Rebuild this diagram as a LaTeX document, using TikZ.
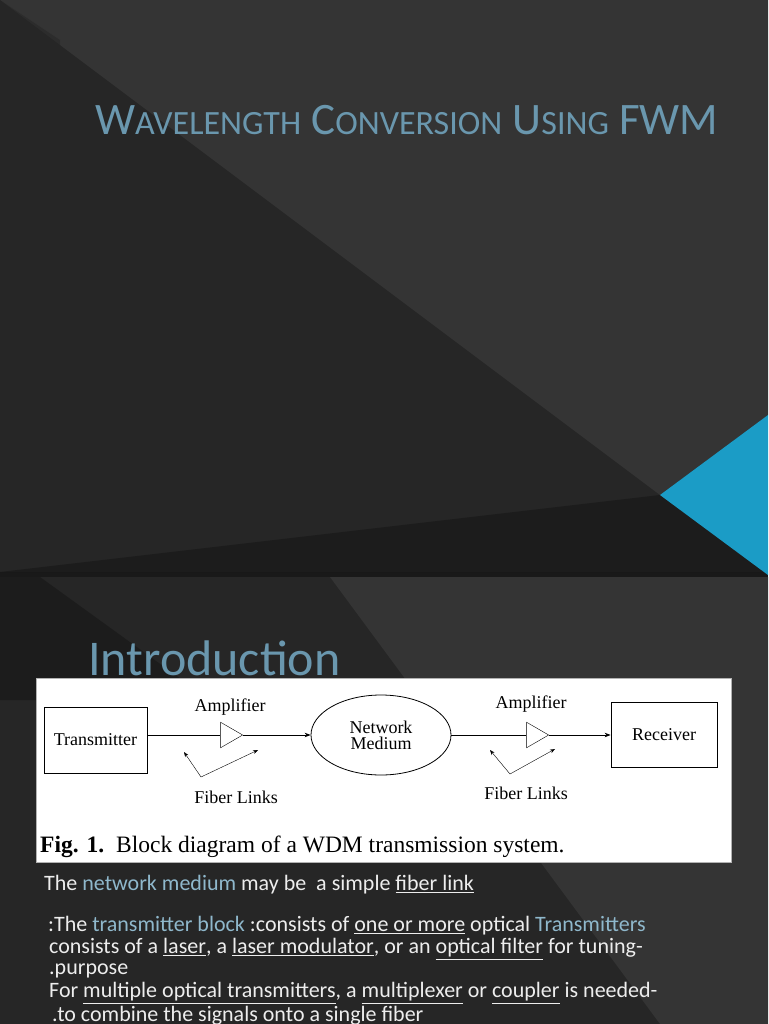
\documentclass[tikz,border=0pt]{standalone}
\usepackage{fontspec}
\setmainfont{Carlito}
\newfontfamily\figfont{Liberation Serif}
\usetikzlibrary{arrows.meta,shapes.geometric}
\definecolor{bgA}{HTML}{262626}
\definecolor{bgB}{HTML}{343434}
\definecolor{ttl}{HTML}{6A97AE}
\definecolor{hl}{HTML}{8FB8CC}
\definecolor{txt}{HTML}{EDEDED}
\definecolor{tri}{HTML}{1B9CC6}
\tikzset{
 blk/.style={draw=black,thick,fill=white,minimum width=103pt,minimum height=66pt,font=\figfont\fontsize{18}{19}\selectfont},
 amp/.style={draw=black,isosceles triangle,isosceles triangle apex angle=60,minimum height=22pt,inner sep=0pt,fill=white},
 lab/.style={font=\figfont\fontsize{18}{19}\selectfont,text=black},
 body/.style={anchor=west,text=txt,font=\fontsize{22}{24}\selectfont,inner sep=0pt},
 wire/.style={draw=black,thick},
}
\newcommand{\ul}[1]{\underline{#1}}
\newcommand{\sm}[1]{{\fontsize{34}{36}\selectfont #1}}
\begin{document}
\begin{tikzpicture}[x=1pt,y=-1pt]
\useasboundingbox (0,0) rectangle (768,1024);
\fill[black!90] (0,0) rectangle (768,1024);
% slide 1
\fill[bgA] (0,0) rectangle (768,572);
\fill[bgB] (0,0) -- (768,0) -- (768,415) -- (660,495) -- cycle;
\fill[black!85!white,opacity=.5] (0,0) -- (60,40) -- (60,572) -- (0,572) -- cycle;
\fill[black,opacity=.25] (0,572) -- (660,495) -- (768,572) -- cycle;
\fill[tri] (660,495) -- (768,415) -- (768,575) -- cycle;
\node[anchor=base west,text=ttl,font=\fontsize{45}{47}\selectfont,inner sep=0pt] (title) at (95,135) {W\sm{AVELENGTH} C\sm{ONVERSION} U\sm{SING} FWM};
% slide 2
\fill[bgA] (0,577) rectangle (768,1024);
\fill[bgB] (330,577) -- (768,577) -- (768,1024) -- (660,1024) -- cycle;
\fill[black,opacity=.25] (0,577) -- (40,577) -- (210,700) -- (0,700) -- cycle;
\node[anchor=base west,text=ttl,font=\fontsize{50}{52}\selectfont,inner sep=0pt] (intro) at (88,675) {Introduction};
% figure
\fill[white] (36,678) rectangle (731,862);
\draw[gray!60] (36,678) rectangle (731,862);
\node[blk] (tx) at (95.5,740) {Transmitter};
\node[amp] (a1) at (228,735) {};
\node[draw=black,thick,ellipse,minimum width=140pt,minimum height=80pt,font=\figfont\fontsize{18}{18}\selectfont,align=center,inner sep=0pt] (nm) at (381,735) {Network\\[-2pt]Medium};
\node[amp] (a2) at (534,735) {};
\node[blk,minimum width=106pt,minimum height=65pt] (rx) at (664,734.5) {Receiver};
\draw[wire] (tx.east |- a1.west) -- (a1.west);
\draw[wire,-{Stealth[length=6pt]}] (a1.apex) -- (nm.west);
\draw[wire] (nm.east) -- (a2.west);
\draw[wire,-{Stealth[length=6pt]}] (a2.apex) -- (rx.west |- a2.apex);
\node[lab] (al1) at (230,707) {Amplifier};
\node[lab] (al2) at (531,704) {Amplifier};
\node[lab] (f1) at (236,797) {Fiber Links};
\node[lab] (f2) at (526,793) {Fiber Links};
\coordinate (v1) at (201,777); \coordinate (v1a) at (184,752); \coordinate (v1b) at (258,750);
\coordinate (v2) at (510,774); \coordinate (v2a) at (490,750); \coordinate (v2b) at (555,749);
\draw[black,-{Stealth[length=5pt]}] (v1) -- (v1a);
\draw[black,-{Stealth[length=5pt]}] (v1) -- (v1b);
\draw[black,-{Stealth[length=5pt]}] (v2) -- (v2a);
\draw[black,-{Stealth[length=5pt]}] (v2) -- (v2b);
\node[anchor=base west,font=\figfont\fontsize{23.5}{25}\selectfont,text=black,inner sep=0pt] (cap) at (40,852) {\textbf{Fig. 1.}\hspace{12pt}Block diagram of a WDM transmission system.};
% body text
\node[body] (l1) at (44,885) {The {\color{hl}network medium} may be\ \ a simple \ul{fiber link}};
\node[body] (l2) at (48,926) {:The {\color{hl}transmitter block} :consists of \ul{one or more} optical {\color{hl}Transmitters}};
\node[body] (l3) at (49,949) {consists of a \ul{laser}, a \ul{laser modulator}, or an \ul{optical filter} for tuning-};
\node[body] (l4) at (49,971) {.purpose};
\node[body] (l5) at (49,993) {For \ul{multiple optical transmitters}, a \ul{multiplexer} or \ul{coupler} is needed-};
\node[body] (l6) at (52,1016) {.to combine the signals onto a single fiber};
\end{tikzpicture}
\end{document}
